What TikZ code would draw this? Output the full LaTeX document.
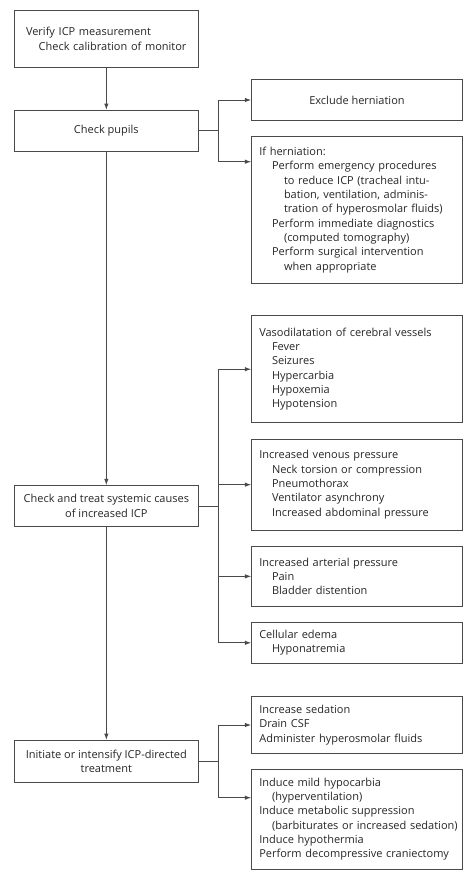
\documentclass[tikz,border=0pt]{standalone}
\usepackage{fontspec}
\setmainfont{Open Sans}
\usetikzlibrary{arrows.meta}
\definecolor{ln}{HTML}{4A4A4A}
\definecolor{tx}{HTML}{262626}
\begin{document}
\begin{tikzpicture}[x=1pt,y=-1pt,
  font=\fontsize{11}{14.3}\selectfont,
  box/.style={draw=ln, line width=1pt, text=tx, inner sep=0pt, outer sep=0pt},
  lbox/.style={box, minimum width=184.7pt},
  rbox/.style={box, minimum width=211.4pt, text width=195.4pt, align=left},
  conn/.style={draw=ln, line width=1pt},
  arr/.style={conn, -{Latex[length=6.5pt,width=4.5pt]}}]
\useasboundingbox (0,0) rectangle (474,879);
\newcommand{\ia}{\hspace*{12.7pt}}
\newcommand{\ib}{\hspace*{24.7pt}}
% left column
\node[lbox, minimum height=57.7pt, text width=160.7pt, align=left] (v) at (106.35,38.85)
  {Verify ICP measurement\\\ia Check calibration of monitor};
\node[lbox, minimum height=41.3pt, align=center] (p) at (106.35,130.65) {Check pupils};
\node[lbox, minimum height=41.4pt, align=center] (s) at (106.35,506)
  {Check and treat systemic causes\\of increased ICP};
\node[lbox, minimum height=42pt, align=center] (i) at (106.35,761)
  {Initiate or intensify ICP-directed\\treatment};
% right column
\node[box, minimum width=211.4pt, minimum height=41.4pt, align=center] (eh) at (357,100) {Exclude herniation};
\node[rbox, minimum height=146.6pt] (ih) at (357,210)
  {If herniation:\\
   \ia Perform emergency procedures\\
   \ib to reduce ICP (tracheal intu-\\
   \ib bation, ventilation, adminis-\\
   \ib \mbox{tration of hyperosmolar fluids)}\\
   \ia Perform immediate diagnostics\\
   \ib (computed tomography)\\
   \ia Perform surgical intervention\\
   \ib when appropriate};
\node[rbox, minimum height=107pt] (vd) at (357,369.2)
  {Vasodilatation of cerebral vessels\\
   \ia Fever\\ \ia Seizures\\ \ia Hypercarbia\\ \ia Hypoxemia\\ \ia Hypotension};
\node[rbox, minimum height=90.7pt] (vp) at (357,484.65)
  {Increased venous pressure\\
   \ia Neck torsion or compression\\ \ia Pneumothorax\\ \ia Ventilator asynchrony\\ \ia Increased abdominal pressure};
\node[rbox, minimum height=60.7pt] (ap) at (357,576.35)
  {Increased arterial pressure\\ \ia Pain\\ \ia Bladder distention};
\node[rbox, minimum height=41pt] (ce) at (357,642.8)
  {Cellular edema\\ \ia Hyponatremia};
\node[rbox, minimum height=56.6pt] (is) at (357,725)
  {Increase sedation\\Drain CSF\\Administer hyperosmolar fluids};
\node[rbox, minimum height=100.3pt] (im) at (357,819.15)
  {Induce mild hypocarbia\\
   \ia (hyperventilation)\\
   Induce metabolic suppression\\
   \ia \mbox{(barbiturates or increased sedation)}\\
   Induce hypothermia\\
   Perform decompressive craniectomy};
% main flow
\draw[arr] (v.south) -- (p.north);
\draw[arr] (p.south) -- (s.north);
\draw[arr] (s.south) -- (i.north);
% branch 1
\coordinate (j1) at (218.3,130.65);
\coordinate (ihin) at (251.3,161.7);
\draw[conn] (p.east) -- (j1);
\draw[arr] (j1) |- (eh.west);
\draw[arr] (j1) |- (ihin);
% branch 2
\coordinate (j2) at (218.3,506);
\draw[conn] (s.east) -- (j2);
\draw[arr] (j2) |- (vd.west);
\draw[arr] (j2) |- (vp.west);
\draw[arr] (j2) |- (ap.west);
\draw[arr] (j2) |- (ce.west);
% branch 3
\coordinate (j3) at (218.3,761);
\coordinate (imin) at (251.3,797.7);
\draw[conn] (i.east) -- (j3);
\draw[arr] (j3) |- (is.west);
\draw[arr] (j3) |- (imin);
\end{tikzpicture}
\end{document}
